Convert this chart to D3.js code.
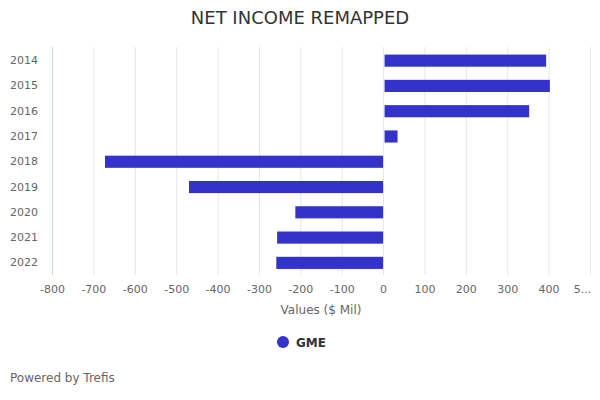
<!DOCTYPE html>
<html>
<head>
<meta charset="utf-8">
<script src="https://cdn.jsdelivr.net/npm/d3@7"></script>
<style>
  body { margin: 0; background: #fff; }
  svg { font-family: "DejaVu Sans", sans-serif; display: block; }
</style>
</head>
<body>
<div id="chart"></div>
<script>
// Chart data
const years = ['2014', '2015', '2016', '2017', '2018', '2019', '2020', '2021', '2022'];
const netIncome = [394, 403, 353, 35, -672, -469, -212, -256, -258];
const tickValues = [-800, -700, -600, -500, -400, -300, -200, -100, 0, 100, 200, 300, 400, 500];
const seriesName = 'GME';

const width = 600, height = 400;
const margin = { top: 47, right: 10, bottom: 125, left: 52 };

const svg = d3.select('#chart')
    .append('svg')
    .attr('width', width)
    .attr('height', height);

// Scales
const x = d3.scaleLinear()
    .domain([-800, 500])
    .range([margin.left, width - margin.right]);

const y = d3.scaleBand()
    .domain(years)
    .range([margin.top + 1, 275.5])
    .paddingInner(0.52)
    .paddingOuter(0.26);

// Title
svg.append('text')
    .attr('x', width / 2)
    .attr('y', 24)
    .attr('text-anchor', 'middle')
    .style('font-size', '18px')
    .style('fill', '#333')
    .text('NET INCOME REMAPPED');

// Gridlines
svg.append('g')
    .selectAll('line')
    .data(tickValues.slice(1))
    .enter()
    .append('line')
    .attr('x1', d => x(d) + 0.5)
    .attr('x2', d => x(d) + 0.5)
    .attr('y1', margin.top)
    .attr('y2', height - margin.bottom)
    .attr('stroke', '#e6e6e6')
    .attr('stroke-width', 1);

// Left axis line
svg.append('line')
    .attr('x1', x(-800) + 0.5)
    .attr('x2', x(-800) + 0.5)
    .attr('y1', margin.top)
    .attr('y2', height - margin.bottom)
    .attr('stroke', '#ccd6eb');

// Bars
svg.append('g')
    .selectAll('rect')
    .data(netIncome)
    .enter()
    .append('rect')
    .attr('x', d => d >= 0 ? x(0) + 1.5 : x(d))
    .attr('y', (d, i) => y(years[i]))
    .attr('width', d => d >= 0 ? x(d) - x(0) - 1.5 : x(0) - x(d))
    .attr('height', y.bandwidth())
    .attr('fill', '#3333cc');

// Category labels
const yAxis = svg.append('g')
    .attr('transform', `translate(${margin.left - 14},0)`)
    .call(d3.axisLeft(y).tickSize(0).tickPadding(0));
yAxis.select('.domain').remove();
yAxis.selectAll('text')
    .style('font-family', '"DejaVu Sans", sans-serif')
    .style('font-size', '11px')
    .style('fill', '#666');

// Value labels
const xAxis = svg.append('g')
    .attr('transform', `translate(0,${height - margin.bottom + 5})`)
    .call(d3.axisBottom(x)
        .tickValues(tickValues)
        .tickSize(0)
        .tickPadding(5)
        .tickFormat(d => d === 500 ? '5...' : d));
xAxis.select('.domain').remove();
xAxis.selectAll('text')
    .style('font-family', '"DejaVu Sans", sans-serif')
    .style('font-size', '11px')
    .style('fill', '#666');
xAxis.selectAll('.tick')
    .filter(d => d === 500)
    .select('text')
    .attr('x', -8);

// Axis title
svg.append('text')
    .attr('x', (x(-800) + x(500)) / 2)
    .attr('y', 314)
    .attr('text-anchor', 'middle')
    .style('font-size', '12px')
    .style('fill', '#666')
    .text('Values ($ Mil)');

// Legend
const legend = svg.append('g')
    .attr('transform', 'translate(283,342)');
legend.append('circle')
    .attr('r', 6)
    .attr('fill', '#3333cc');
legend.append('text')
    .attr('x', 13)
    .attr('y', 5)
    .style('font-size', '12px')
    .style('font-weight', 'bold')
    .style('fill', '#333')
    .text(seriesName);

// Credits
svg.append('text')
    .attr('x', 10)
    .attr('y', 382)
    .style('font-size', '12px')
    .style('fill', '#666')
    .text('Powered by Trefis');
</script>
</body>
</html>
